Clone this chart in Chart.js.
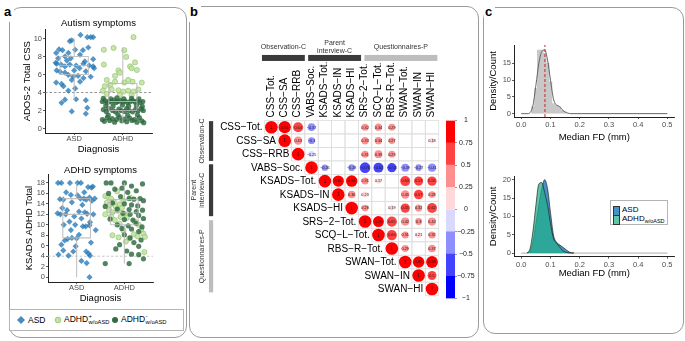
<!DOCTYPE html>
<html>
<head>
<meta charset="utf-8">
<script src="https://cdn.jsdelivr.net/npm/chart.js@4.4.1/dist/chart.umd.min.js"></script>
<style>
html,body{margin:0;padding:0;background:#fff;}
body{width:685px;height:341px;position:relative;overflow:hidden;font-family:"Liberation Sans",Arial,Helvetica,sans-serif;}
.panel{position:absolute;box-sizing:border-box;border:1px solid #9b9b9b;border-radius:12px;}
.letter{position:absolute;font-weight:bold;font-size:13px;line-height:14px;background:#fff;padding:0 3px 3px 1px;color:#000;}
canvas{position:absolute;}
.leg{position:absolute;box-sizing:border-box;border:1px solid #b5b5b5;background:#fff;font-size:8.5px;color:#000;}
.it{position:absolute;white-space:nowrap;line-height:9px;}
.ss{display:inline-block;vertical-align:middle;font-size:5.8px;line-height:5.8px;margin-left:0.5px;}
.ss span{display:block;}
</style>
</head>
<body>
<div class="panel" style="left:9px;top:7px;width:178px;height:331px;"></div>
<div class="panel" style="left:189px;top:6px;width:290px;height:332px;"></div>
<div class="panel" style="left:483px;top:7px;width:201px;height:327px;"></div>
<div class="letter" style="left:3px;top:5px;">a</div>
<div class="letter" style="left:189px;top:5px;">b</div>
<div class="letter" style="left:484px;top:5px;">c</div>

<div class="leg" style="left:9px;top:309px;width:175px;height:22px;">
  <svg style="position:absolute;left:7px;top:6px" width="8" height="8"><polygon points="4,0 8,4 4,8 0,4" fill="rgba(38,120,182,0.85)"/></svg>
  <div class="it" style="left:18px;top:6px;">ASD</div>
  <svg style="position:absolute;left:44px;top:6px" width="8" height="8"><circle cx="4" cy="4" r="2.9" fill="rgb(195,226,160)" stroke="rgb(140,188,110)" stroke-width="0.7"/></svg>
  <div class="it" style="left:54px;top:4px;">ADHD<span class="ss"><span>+</span><span>w/oASD</span></span></div>
  <svg style="position:absolute;left:101px;top:6px" width="8" height="8"><circle cx="4" cy="4" r="3" fill="rgb(50,108,68)"/></svg>
  <div class="it" style="left:111px;top:4px;">ADHD<span class="ss"><span>-</span><span>w/oASD</span></span></div>
</div>

<div class="leg" style="left:610px;top:200px;width:58px;height:25px;">
  <div style="position:absolute;left:2px;top:5px;width:5px;height:8px;background:rgb(70,146,202);border:0.5px solid #333;"></div>
  <div class="it" style="left:11px;top:4px;font-size:8px;">ASD</div>
  <div style="position:absolute;left:2px;top:14px;width:5px;height:8px;background:rgb(97,197,169);border:0.5px solid #333;"></div>
  <div class="it" style="left:11px;top:13px;font-size:8px;">ADHD<span style="font-size:5.5px;vertical-align:-2px;">w/oASD</span></div>
</div>

<script>
// ======================= DATA =======================
const diagnosisLabels = ['ASD', 'ADHD'];
const adosTickValues = [0, 2, 4, 6, 8, 10];
const ksadsTickValues = [0, 2, 4, 6, 8, 10, 12, 14, 16, 18];
const adosCutoff = 4;
const ksadsCutoff = 4;

// [jittered group position, score]
const adosASD = [[0.63,8.4],[0.69,8.8],[0.76,8.7],[0.88,8.4],[0.91,9.7],[0.95,9.8],[1.13,10.4],[1.27,10.15],[1.34,10.15],[1.39,10.15],[1.29,9.0],[0.67,7.8],[0.81,8.0],[0.93,7.8],[1.02,8.75],[1.12,8.2],[1.22,7.45],[1.39,7.7],[0.64,7.2],[0.73,7.1],[0.81,6.9],[0.91,7.1],[1.04,7.0],[1.11,6.7],[1.19,7.2],[1.31,7.0],[1.41,6.7],[0.64,6.45],[0.71,6.3],[0.81,6.2],[0.88,5.95],[0.98,5.75],[1.08,5.85],[1.24,6.35],[1.19,5.6],[0.63,5.1],[0.74,4.95],[0.78,4.7],[0.95,5.4],[1.02,4.45],[0.88,4.2],[0.81,3.2],[1.04,3.25],[1.24,3.15],[0.74,2.85],[1.27,2.3],[0.95,1.9],[1.24,1.65],[1.39,6.9],[0.62,7.3],[0.85,7.55],[1.18,8.7],[1.0,6.45],[1.12,5.2],[1.34,5.75]];
const adosADHDpos = [[2.22,10.15],[1.61,8.75],[1.81,8.95],[2.03,8.7],[2.07,7.95],[2.25,7.35],[2.15,6.9],[1.61,7.1],[1.91,6.45],[1.94,6.2],[2.18,6.7],[2.29,6.5],[1.67,5.4],[1.84,5.2],[2.03,5.1],[2.2,5.2],[2.39,5.1],[1.63,4.7],[1.74,4.85],[1.59,4.2],[1.77,4.35],[1.91,4.25],[2.01,4.1],[2.11,4.2],[2.22,4.1],[2.32,4.35],[1.94,3.7],[2.18,3.7],[1.67,3.85],[1.84,5.85],[2.11,5.4]];
const adosADHDneg = [[1.58,3.0],[1.63,3.1],[1.68,2.85],[1.72,3.05],[1.77,2.95],[1.82,3.15],[1.86,2.9],[1.9,3.0],[1.95,3.1],[2.0,2.95],[2.05,3.05],[2.1,2.85],[2.15,3.0],[2.2,3.1],[2.25,2.95],[2.3,3.05],[2.35,2.9],[2.41,3.0],[1.6,3.35],[1.75,3.3],[1.88,3.4],[2.02,3.3],[2.18,3.35],[2.33,3.3],[1.6,2.1],[1.66,1.9],[1.71,2.2],[1.79,2.0],[1.85,1.85],[1.92,2.15],[1.97,2.0],[2.04,1.9],[2.08,2.2],[2.13,2.0],[2.2,1.85],[2.26,2.1],[2.31,1.95],[2.38,2.2],[2.42,2.0],[1.58,1.0],[1.62,0.8],[1.68,1.2],[1.73,0.9],[1.78,1.1],[1.83,0.7],[1.87,1.0],[1.93,1.25],[1.98,0.85],[2.03,1.05],[2.08,0.75],[2.14,1.15],[2.19,0.9],[2.24,1.0],[2.29,0.7],[2.34,1.2],[2.39,0.85],[2.43,0.65],[1.65,2.55],[1.8,2.5],[1.99,2.6],[2.12,2.5],[2.28,2.55],[2.4,2.45],[1.7,1.5],[1.9,1.55],[2.1,1.45],[2.3,1.5]];

const ksadsASD = [[0.61,18],[0.68,18],[0.86,18],[1.02,18],[1.09,18],[1.24,17.2],[1.31,17.1],[1.34,17.3],[1.16,16.2],[0.78,16.2],[0.88,15.7],[1.02,15.6],[1.08,15.0],[1.15,15.0],[1.2,14.8],[1.27,15.2],[1.32,14.6],[1.38,15.0],[0.65,14.9],[0.72,14.8],[0.9,14.3],[1.12,13.8],[0.7,13.2],[0.8,12.8],[1.05,12.5],[1.17,12.4],[1.22,12.1],[1.35,12.0],[0.6,12.2],[0.66,12.0],[0.77,12.0],[0.95,11.6],[1.1,11.2],[0.85,10.6],[1.28,10.5],[0.73,10.0],[0.97,10.0],[1.13,9.7],[1.19,9.7],[1.27,9.9],[0.88,9.0],[1.4,9.0],[1.05,8.1],[0.81,7.3],[0.75,7.0],[0.9,7.5],[1.0,7.4],[1.3,6.6],[0.68,6.2],[0.98,5.9],[0.72,5.1],[0.93,4.9],[1.2,4.9],[1.25,4.5],[0.62,4.3],[0.83,4.1],[1.28,4.1],[1.1,3.1],[1.21,2.7],[1.27,0.0]];
const ksadsADHDpos = [[1.6,15.5],[1.66,15.3],[1.72,15.0],[1.78,14.4],[1.63,14.2],[1.7,13.8],[1.82,13.5],[1.9,13.9],[1.95,13.2],[1.68,12.8],[1.75,12.4],[1.86,12.7],[2.0,12.1],[1.6,12.0],[1.72,11.6],[1.92,11.5],[2.05,11.3],[1.8,10.9],[2.22,10.6],[2.3,10.0],[1.9,10.2],[2.35,9.0],[1.98,8.9],[2.4,8.3],[2.2,8.2],[1.75,8.0],[1.88,7.6],[2.1,7.4],[2.28,7.8],[2.43,7.7],[1.98,14.6],[2.12,15.2],[1.85,16.4],[2.42,4.8],[2.03,6.8]];
const ksadsADHDneg = [[1.62,18],[1.72,18],[2.0,18],[2.15,17.4],[2.38,17.8],[1.95,17.0],[1.8,16.8],[2.07,16.2],[2.25,16.5],[1.67,16.0],[1.92,15.4],[2.1,15.0],[2.2,14.9],[2.33,15.0],[2.4,14.6],[1.75,14.2],[2.0,14.0],[2.15,13.8],[2.28,13.6],[1.6,13.5],[1.85,13.0],[2.1,12.9],[2.25,12.5],[2.38,12.8],[1.97,12.2],[2.12,12.0],[2.3,11.8],[1.7,11.1],[2.0,11.0],[2.18,10.9],[2.4,11.2],[1.85,10.0],[2.08,9.8],[2.25,10.3],[2.37,9.6],[1.95,9.3],[2.15,9.2],[2.3,8.7],[2.0,8.1],[2.12,7.5],[2.35,7.1],[2.2,6.6],[1.9,6.2],[2.3,5.9],[2.05,5.0],[2.3,4.3],[2.4,3.5],[1.6,2.6],[2.1,2.6],[1.82,5.4],[2.15,4.4]];

// boxplot stats: [lower whisker, Q1, median, Q3, upper whisker]
const adosBoxASD = [3.15, 6, 7, 8, 10];
const adosBoxADHD = [0.6, 2, 3, 5, 9];
const ksadsBoxASD = [0, 7.5, 12, 15, 18];
const ksadsBoxADHD = [2.6, 10, 12.3, 14.8, 18];

// correlation matrix (upper triangle, starting at diagonal; null = not significant)
const corrVars = ['CSS−Tot.','CSS−SA','CSS−RRB','VABS−Soc.','KSADS−Tot.','KSADS−IN','KSADS−HI','SRS−2−Tot.','SCQ−L−Tot.','RBS−R−Tot.','SWAN−Tot.','SWAN−IN','SWAN−HI'];
const corrCSSTot   = [1, 0.94, 0.64, -0.37, null, null, null, 0.32, 0.34, 0.29, null, null, null];
const corrCSSSA    = [1, 0.43, -0.30, null, null, null, 0.33, 0.34, 0.27, null, null, 0.18];
const corrCSSRRB   = [1, -0.25, null, null, null, 0.31, 0.39, 0.29, null, null, null];
const corrVABSSoc  = [1, -0.26, null, -0.28, -0.71, -0.62, -0.53, -0.39, -0.27, -0.41];
const corrKSADSTot = [1, 0.81, 0.83, 0.31, 0.17, null, 0.63, 0.53, 0.55];
const corrKSADSIN  = [1, 0.36, 0.23, null, null, 0.45, 0.57, 0.28];
const corrKSADSHI  = [1, 0.28, null, 0.19, 0.55, 0.32, 0.62];
const corrSRS2Tot  = [1, 0.76, 0.65, 0.42, 0.3, 0.42];
const corrSCQLTot  = [1, 0.66, 0.31, 0.21, 0.32];
const corrRBSRTot  = [1, 0.29, null, 0.37];
const corrSWANTot  = [1, 0.85, 0.88];
const corrSWANIN   = [1, 0.5];
const corrSWANHI   = [1];
const corrGroupNames = [['Observation-C'], ['Parent', 'interview-C'], ['Questionnaires-P']];
const colorLegendTicks = [-1, -0.75, -0.5, -0.25, 0, 0.25, 0.5, 0.75, 1];

// median framewise displacement
const fdTickValues = [0, 0.1, 0.2, 0.3, 0.4, 0.5];
const fdX = [0, 0.01, 0.02, 0.03, 0.04, 0.05, 0.06, 0.07, 0.08, 0.09, 0.10, 0.11, 0.12, 0.13, 0.14, 0.15, 0.16, 0.17, 0.18, 0.5];
const fdDensityAll = [0, 0, 0, 0.3, 2.5, 8.5, 15, 18.5, 19, 16, 10, 4.5, 2.6, 2.2, 1.2, 0.5, 0.15, 0, 0, 0];
const fdHistCenters = [0.04, 0.05, 0.06, 0.07, 0.08, 0.09, 0.10, 0.11, 0.12, 0.13, 0.14, 0.15];
const fdHistCounts = [2, 7.5, 19, 19, 18, 15, 9.5, 3, 2.5, 2, 1, 0.5];
const fdMedian = 0.081;
const fdGroupX = [0.02, 0.03, 0.04, 0.05, 0.06, 0.07, 0.08, 0.09, 0.10, 0.11, 0.12, 0.13, 0.14, 0.15, 0.16, 0.17, 0.18];
const fdDensityASD = [0, 0.6, 3, 8, 13, 17.5, 20, 17.5, 11, 5, 3, 2.3, 1.7, 1.1, 0.5, 0.1, 0];
const fdDensityADHD = [0, 1.2, 6, 13, 18.8, 19.2, 16.5, 13, 8, 4, 2.8, 1.8, 0.8, 0.3, 0.05, 0, 0];

// ======================= SETUP =======================
const FONT = '"Liberation Sans", Arial, Helvetica, sans-serif';
Chart.defaults.font.family = FONT;
Chart.defaults.animation = false;
Chart.defaults.responsive = false;
Chart.defaults.plugins.legend.display = false;
Chart.defaults.plugins.tooltip.enabled = false;
Chart.defaults.color = '#4d4d4d';

const tickFont = {size: 7.5, lineHeight: 1};
const tickColor = '#4d4d4d';
const axisTitleFont = {size: 9.5, lineHeight: 1.2};

function mkCanvas(left, top, w, h) {
  const c = document.createElement('canvas');
  c.width = w; c.height = h;
  c.style.left = left + 'px'; c.style.top = top + 'px';
  c.style.width = w + 'px'; c.style.height = h + 'px';
  document.body.appendChild(c);
  return c.getContext('2d');
}
const toPts = arr => arr.map(p => ({x: p[0], y: p[1]}));
const fixedTicks = vals => (s => { s.ticks = vals.map(v => ({value: v})); });

// whiskers + median + box outline built from the five summary values
function boxLines(x, s, half) {
  return [{x, y: s[0]}, {x, y: s[1]}, {x, y: null},
          {x, y: s[3]}, {x, y: s[4]}, {x, y: null},
          {x: x - half, y: s[2]}, {x: x + half, y: s[2]}, {x, y: null},
          {x: x - half, y: s[1]}, {x: x + half, y: s[1]}, {x: x + half, y: s[3]}, {x: x - half, y: s[3]}, {x: x - half, y: s[1]}];
}

function panelA(o) {
  const ctx = mkCanvas(o.left, o.top, o.w, o.h);
  const half = 0.29;
  const boxColor = 'rgba(185,185,185,0.85)';
  return new Chart(ctx, {
    type: 'scatter',
    data: {datasets: [
      {type: 'line', data: boxLines(1, o.boxASD, half), borderColor: boxColor, borderWidth: 1.1, pointRadius: 0, spanGaps: false, order: 0},
      {type: 'line', data: boxLines(2, o.boxADHD, half), borderColor: boxColor, borderWidth: 1.1, pointRadius: 0, spanGaps: false, order: 0},
      {data: toPts(o.asd), pointStyle: 'rectRot', pointRadius: 3.1, backgroundColor: 'rgba(38,120,182,0.78)', borderWidth: 0, order: 1},
      {data: toPts(o.neg), pointStyle: 'circle', pointRadius: 2.6, backgroundColor: 'rgba(45,105,62,0.82)', borderWidth: 0, order: 2},
      {data: toPts(o.pos), pointStyle: 'circle', pointRadius: 2.6, backgroundColor: 'rgba(195,226,160,0.9)', borderColor: 'rgba(140,188,110,0.95)', borderWidth: 0.6, order: 3},
      {type: 'line', data: [{x: 0.4, y: o.cutoff}, {x: 2.6, y: o.cutoff}], borderColor: o.cutColor, borderDash: [2.5, 2], borderWidth: 0.8, pointRadius: 0, order: 4}
    ]},
    options: {
      layout: {padding: {left: 0, right: o.padRight, top: 0, bottom: 0}},
      plugins: {title: {display: true, fullSize: false, text: o.title, color: '#000', font: {size: 9.5, lineHeight: 1, weight: 'normal'}, padding: o.titlePad}},
      scales: {
        x: {type: 'linear', min: 0.4, max: 2.6, offset: false,
            afterBuildTicks: fixedTicks(diagnosisLabels.map((_, i) => i + 1)),
            ticks: {font: tickFont, color: tickColor, padding: 0, maxRotation: 0, callback: (v, i) => diagnosisLabels[i]},
            grid: {offset: false, drawOnChartArea: false, tickLength: 2, color: '#333', lineWidth: 0.8},
            border: {color: '#222', width: 1},
            title: {display: true, text: 'Diagnosis', color: '#000', font: axisTitleFont, padding: {top: 0, bottom: 0}},
            afterFit: s => { s.height = 22; }},
        y: {min: o.yMin, max: o.yMax, beginAtZero: false,
            afterBuildTicks: fixedTicks(o.yTicks),
            ticks: {font: tickFont, color: tickColor, padding: 1},
            grid: {drawOnChartArea: false, tickLength: 2, color: '#333', lineWidth: 0.8},
            border: {color: '#222', width: 1},
            title: {display: true, text: o.yTitle, color: '#000', font: axisTitleFont, padding: {top: o.yTitlePad, bottom: 0}},
            afterFit: s => { s.width = o.yWidth; }}
      }
    }
  });
}

panelA({left: 10, top: 10, w: 170, h: 145, title: 'Autism symptoms', titlePad: {top: 9, bottom: 1},
  yTitle: 'ADOS-2 Total CSS', yTitlePad: 11.6, yWidth: 35, padRight: 28, yMin: -0.5, yMax: 11, yTicks: adosTickValues,
  asd: adosASD, pos: adosADHDpos, neg: adosADHDneg, boxASD: adosBoxASD, boxADHD: adosBoxADHD, cutoff: adosCutoff, cutColor: '#7a7a7a'});

panelA({left: 10, top: 160, w: 170, h: 144, title: 'ADHD symptoms', titlePad: {top: 6, bottom: -1.5},
  yTitle: 'KSADS ADHD Total', yTitlePad: 13.3, yWidth: 38, padRight: 27, yMin: -0.92, yMax: 19.7, yTicks: ksadsTickValues,
  asd: ksadsASD, pos: ksadsADHDpos, neg: ksadsADHDneg, boxASD: ksadsBoxASD, boxADHD: ksadsBoxADHD, cutoff: ksadsCutoff, cutColor: '#b8b8b8'});

// ======================= PANEL B: correlation matrix =======================
const corrRows = [corrCSSTot, corrCSSSA, corrCSSRRB, corrVABSSoc, corrKSADSTot, corrKSADSIN, corrKSADSHI,
                  corrSRS2Tot, corrSCQLTot, corrRBSRTot, corrSWANTot, corrSWANIN, corrSWANHI];
const binColors = ['#0000FF', '#4343FF', '#8E8EFF', '#D9D9FF', '#FFD9D9', '#FF8E8E', '#FF4343', '#FF0000'];
const binOf = v => Math.max(0, Math.min(7, Math.floor((v + 1) / 0.25 + 1e-9)));
const nVar = corrVars.length;
const corrPoints = [];
corrRows.forEach((row, i) => row.forEach((v, k) => {
  if (v !== null) corrPoints.push({x: i + k, y: i, v: v, r: Math.sqrt(Math.abs(v)) * 6.3});
}));
const fmtCorr = v => String(v).replace('-', '−');

const matrixDecor = {
  id: 'matrixDecor',
  beforeDatasetsDraw(chart) {
    const {ctx, scales: {x, y}, chartArea} = chart;
    ctx.save();
    ctx.strokeStyle = '#dedede'; ctx.lineWidth = 0.8;
    for (let i = 0; i < nVar; i++) for (let j = i; j < nVar; j++) {
      const x0 = x.getPixelForValue(j - 0.5), x1 = x.getPixelForValue(j + 0.5);
      const y0 = y.getPixelForValue(i - 0.5), y1 = y.getPixelForValue(i + 0.5);
      ctx.strokeRect(x0, y0, x1 - x0, y1 - y0);
    }
    ctx.fillStyle = '#000'; ctx.font = '10px ' + FONT;
    ctx.textAlign = 'right'; ctx.textBaseline = 'middle';
    corrVars.forEach((name, i) => ctx.fillText(name, x.getPixelForValue(i - 0.5) - 2, y.getPixelForValue(i) + 0.5));
    ctx.textAlign = 'left';
    corrVars.forEach((name, j) => {
      ctx.save();
      ctx.translate(x.getPixelForValue(j) - 0.5, chartArea.top - 3);
      ctx.rotate(-Math.PI / 2);
      ctx.fillText(name, 0, 0);
      ctx.restore();
    });
    const colSpans = [[-0.7, 2.5], [2.75, 6.7], [6.95, 12.4]];
    const rowSpans = [[-0.45, 2.5], [2.75, 6.6], [6.9, 12.25]];
    const barCols = ['#3a3a3a', '#3a3a3a', '#bdbdbd'];
    ctx.font = '7px ' + FONT; ctx.fillStyle = '#333'; ctx.textAlign = 'center';
    colSpans.forEach((sp, g) => {
      const x0 = x.getPixelForValue(sp[0]), x1 = x.getPixelForValue(sp[1]);
      ctx.fillStyle = barCols[g];
      ctx.fillRect(x0, chartArea.top - 65.5, x1 - x0, 6);
      ctx.fillStyle = '#333';
      const lines = corrGroupNames[g];
      lines.forEach((t, li) => {
        const yy = chartArea.top - 73.5 + (li - (lines.length - 1) / 2) * 8;
        ctx.fillText(t, (x0 + x1) / 2, yy);
      });
    });
    rowSpans.forEach((sp, g) => {
      const y0 = y.getPixelForValue(sp[0]), y1 = y.getPixelForValue(sp[1]);
      ctx.fillStyle = barCols[g];
      ctx.fillRect(chartArea.left - 55.7, y0, 4.2, y1 - y0);
      ctx.fillStyle = '#333';
      const lines = corrGroupNames[g];
      lines.forEach((t, li) => {
        const xx = chartArea.left - 62.5 + (li - (lines.length - 1)) * 8;
        ctx.save();
        ctx.translate(xx, (y0 + y1) / 2);
        ctx.rotate(-Math.PI / 2);
        ctx.fillText(t, 0, 0);
        ctx.restore();
      });
    });
    ctx.restore();
  },
  afterDatasetsDraw(chart) {
    const {ctx} = chart;
    const meta = chart.getDatasetMeta(0);
    ctx.save();
    ctx.fillStyle = '#1a1a1a'; ctx.textAlign = 'center'; ctx.textBaseline = 'middle';
    meta.data.forEach((el, k) => {
      const v = corrPoints[k].v;
      ctx.font = (v === 1 ? '4.5px ' : '3.8px ') + FONT;
      ctx.fillText(fmtCorr(v), el.x, el.y + 0.3);
    });
    ctx.restore();
  }
};

new Chart(mkCanvas(190, 30, 255, 272), {
  type: 'bubble',
  data: {datasets: [{
    data: corrPoints,
    backgroundColor: c => binColors[binOf(c.raw.v)],
    borderWidth: 0,
    clip: false
  }]},
  options: {
    layout: {padding: {left: 74.65, right: 2.25, top: 90.45, bottom: 3.45}},
    scales: {
      x: {type: 'linear', min: -0.5, max: 12.5, display: false},
      y: {type: 'linear', min: -0.5, max: 12.5, reverse: true, display: false}
    }
  },
  plugins: [matrixDecor]
});

const colorBins = colorLegendTicks.slice(0, -1).map((v, k) => [v, colorLegendTicks[k + 1]]);
new Chart(mkCanvas(440, 110, 40, 200), {
  type: 'bar',
  data: {labels: [''], datasets: colorBins.map((b, k) => ({
    data: [b], backgroundColor: binColors[k], grouped: false, barPercentage: 1, categoryPercentage: 1, borderWidth: 0
  }))},
  options: {
    layout: {padding: {left: 6, right: 0, top: 10.5, bottom: 11.5}},
    scales: {
      x: {display: false},
      y: {position: 'right', min: -1, max: 1,
          afterBuildTicks: fixedTicks(colorLegendTicks),
          ticks: {font: {size: 7, lineHeight: 1}, color: '#222', padding: 0, crossAlign: 'center', callback: v => fmtCorr(v)},
          grid: {drawOnChartArea: false, tickLength: 2, color: '#555', lineWidth: 0.6},
          border: {display: false},
          afterFit: s => { s.width = 25; }}
    }
  }
});

// ======================= PANEL C =======================
function fdScales(yMin, yMax, yTicks, xHeight) {
  return {
    x: {type: 'linear', min: -0.025, max: 0.525, offset: false,
        afterBuildTicks: fixedTicks(fdTickValues),
        ticks: {font: tickFont, color: tickColor, padding: 2, maxRotation: 0, callback: v => v.toFixed(1)},
        grid: {offset: false, drawOnChartArea: false, tickLength: 2, color: '#333', lineWidth: 0.8},
        border: {color: '#222', width: 1},
        title: {display: true, text: 'Median FD (mm)', color: '#000', font: axisTitleFont, padding: {top: 0, bottom: 0}},
        afterFit: s => { s.height = xHeight; }},
    y: {min: yMin, max: yMax, beginAtZero: false,
        afterBuildTicks: fixedTicks(yTicks),
        ticks: {font: tickFont, color: tickColor, padding: 1},
        grid: {drawOnChartArea: false, tickLength: 2, color: '#333', lineWidth: 0.8},
        border: {color: '#222', width: 1},
        title: {display: true, text: 'Density/Count', color: '#000', font: axisTitleFont, padding: {top: 2.3, bottom: 0}},
        afterFit: s => { s.width = 29; }}
  };
}

new Chart(mkCanvas(485, 35, 195, 108), {
  type: 'scatter',
  data: {datasets: [
    {type: 'line', data: [{x: fdMedian, y: -1}, {x: fdMedian, y: 20.5}], borderColor: '#c62828', borderDash: [3, 2], borderWidth: 1, pointRadius: 0, order: 0},
    {type: 'line', data: fdX.map((x, i) => ({x, y: fdDensityAll[i]})), borderColor: '#555', borderWidth: 0.9, pointRadius: 0, cubicInterpolationMode: 'monotone', order: 1},
    {type: 'bar', data: fdHistCenters.map((x, i) => ({x, y: fdHistCounts[i]})), backgroundColor: '#c8c8c8', barPercentage: 1, categoryPercentage: 1, borderWidth: 0, order: 2}
  ]},
  options: {
    layout: {padding: {left: 0, right: 5.4, top: 10, bottom: 0}},
    scales: fdScales(-1, 20.5, [0, 5, 10, 15], 26)
  }
});

new Chart(mkCanvas(485, 165, 195, 114), {
  type: 'scatter',
  data: {datasets: [
    {type: 'line', data: fdGroupX.map((x, i) => ({x, y: fdDensityADHD[i]})), borderColor: 'rgba(30,30,30,0.85)', borderWidth: 0.8,
     backgroundColor: 'rgba(35,175,135,0.72)', fill: 'origin', pointRadius: 0, cubicInterpolationMode: 'monotone', order: 0},
    {type: 'line', data: fdGroupX.map((x, i) => ({x, y: fdDensityASD[i]})), borderColor: 'rgba(30,30,30,0.85)', borderWidth: 0.8,
     backgroundColor: 'rgba(52,135,196,0.9)', fill: 'origin', pointRadius: 0, cubicInterpolationMode: 'monotone', order: 1},
    {type: 'line', data: [{x: 0, y: 0}, {x: 0.5, y: 0}], borderColor: '#bdbdbd', borderWidth: 1.2, pointRadius: 0, order: 2}
  ]},
  options: {
    layout: {padding: {left: 0, right: 5.4, top: 11, bottom: 0}},
    scales: fdScales(-1, 21, [0, 5, 10, 15, 20], 22.3)
  }
});
</script>
</body>
</html>
